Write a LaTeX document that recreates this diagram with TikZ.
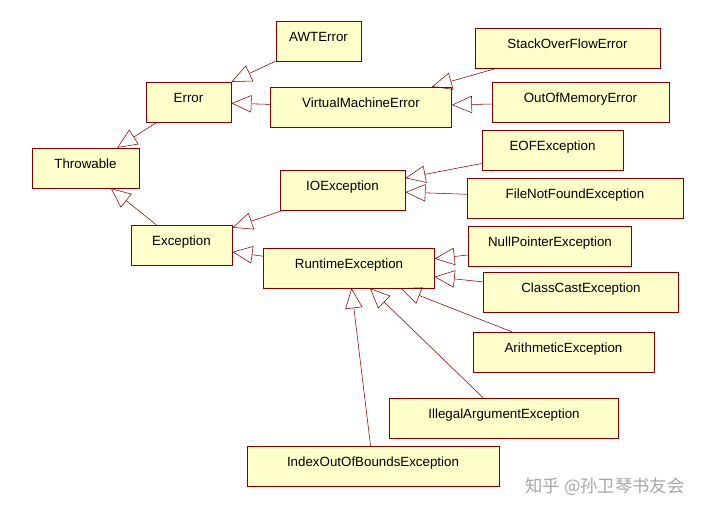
\documentclass[tikz,border=0pt]{standalone}
\usepackage{fontspec}
\setmainfont{Liberation Sans}
\newfontfamily\cjk{Noto Sans CJK SC}
\usetikzlibrary{arrows.meta}
\definecolor{boxfill}{HTML}{FFFFCC}
\definecolor{boxline}{HTML}{800000}

\begin{document}
\begin{tikzpicture}[
    x=0.75pt, y=-0.75pt,
    cls/.style={rectangle, draw=boxline, fill=boxfill, font=\fontsize{10}{12}\selectfont,
        text height=13pt, text depth=13pt, inner ysep=2pt},
    inh/.style={draw=boxline, -{Triangle[open, length=15pt, width=13pt]}}
]
\useasboundingbox (0,0) rectangle (720,515);

% Errors
\node[cls, minimum width=64pt] (awt) at (318.5,41) {AWTError};
\node[cls, minimum width=64pt] (err) at (188.5,102) {Error};
\node[cls, minimum width=80pt] (thr) at (85.5,168) {Throwable};
\node[cls, minimum width=136pt] (vme) at (361,107) {VirtualMachineError};
\node[cls, minimum width=139pt] (sof) at (567.5,48) {StackOverFlowError};
\node[cls, minimum width=133pt] (oom) at (580.5,102) {OutOfMemoryError};

% Exceptions
\node[cls, minimum width=106pt] (eof) at (552.5,150) {EOFException};
\node[cls, minimum width=94pt] (ioe) at (342.5,190) {IOException};
\node[cls, minimum width=162pt] (fnf) at (575,198) {FileNotFoundException};
\node[cls, minimum width=76pt] (exc) at (181.5,245) {Exception};
\node[cls, minimum width=128pt] (rte) at (349,268) {RuntimeException};
\node[cls, minimum width=122pt] (npe) at (550,246) {NullPointerException};
\node[cls, minimum width=146pt] (cce) at (581,292) {ClassCastException};
\node[cls, minimum width=136pt] (ari) at (563.5,352) {ArithmeticException};
\node[cls, minimum width=172pt] (iae) at (504,418) {IllegalArgumentException};
\node[cls, minimum width=189pt] (iob) at (373,466) {IndexOutOfBoundsException};

% Inheritance
\draw[inh] (awt) -- (err);
\draw[inh] (vme) -- (err);
\draw[inh] (err) -- (thr);
\draw[inh] (exc) -- (thr);
\draw[inh] (sof) -- (vme);
\draw[inh] (oom) -- (vme);
\draw[inh] (eof) -- (ioe);
\draw[inh] (fnf) -- (ioe);
\draw[inh] (ioe) -- (exc);
\draw[inh] (rte) -- (exc);
\draw[inh] (npe) -- (rte);
\draw[inh] (cce) -- (rte);
\draw[inh] (ari) -- (rte);
\draw[inh] (iae) -- (rte);
\draw[inh] (iob) -- (rte);

\node[text=gray!70, font=\cjk\fontsize{13}{15}\selectfont] (mark) at (605,487) {知乎 @孙卫琴书友会};
\end{tikzpicture}
\end{document}
